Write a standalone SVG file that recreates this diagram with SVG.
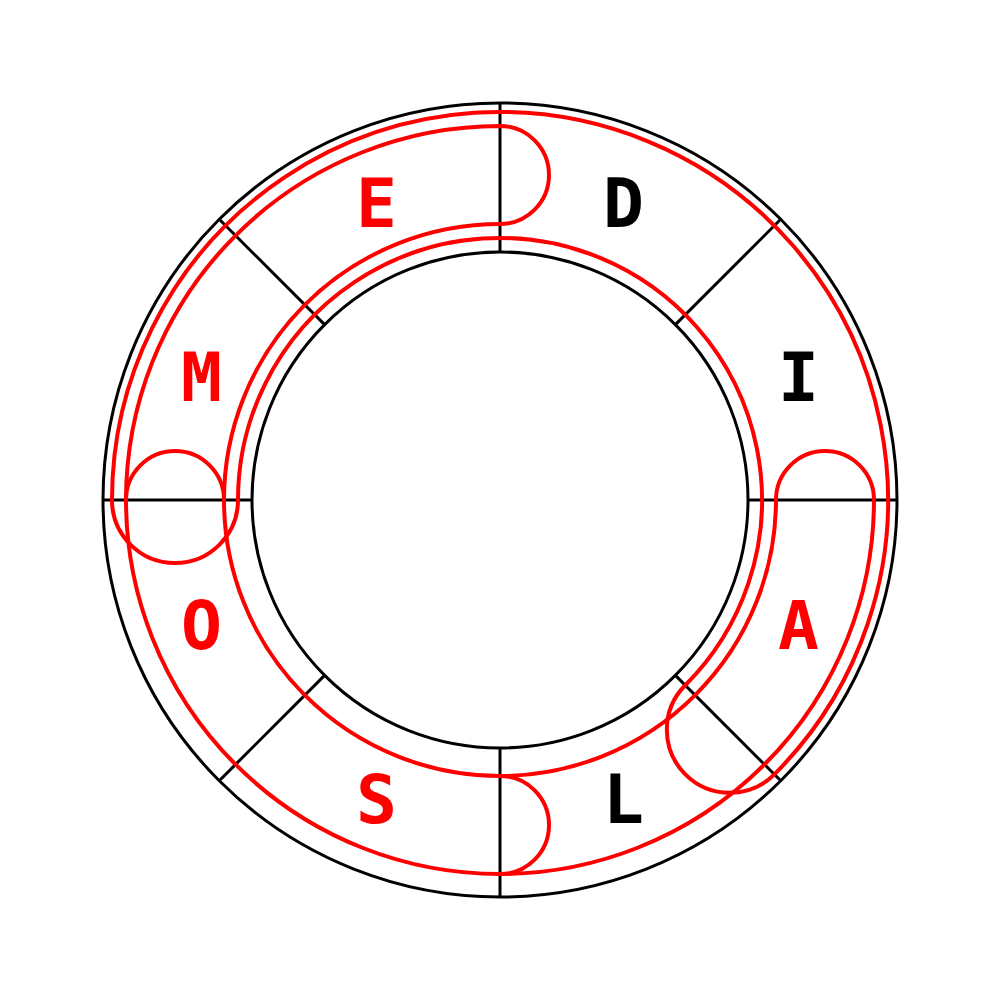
<svg xmlns="http://www.w3.org/2000/svg" width="1000" height="1000" viewBox="0 0 1000 1000">
<style>
.ring{fill:none;stroke:#000;stroke-width:3}
.div{stroke:#000;stroke-width:3}
.red{fill:none;stroke:#ff0000;stroke-width:4}
.lbl{font-family:"DejaVu Sans Mono","Liberation Mono",monospace;font-weight:bold;font-size:68px;text-anchor:middle}
.on{fill:#ff0000}
.off{fill:#000}
</style>
<rect width="1000" height="1000" fill="#fff"/>
<g id="ring">
<circle class="ring" cx="500" cy="500" r="397"/>
<circle class="ring" cx="500" cy="500" r="248"/>
<line class="div" x1="748" y1="500" x2="897" y2="500"/>
<line class="div" x1="675.36" y1="675.36" x2="780.72" y2="780.72"/>
<line class="div" x1="500" y1="748" x2="500" y2="897"/>
<line class="div" x1="324.64" y1="675.36" x2="219.28" y2="780.72"/>
<line class="div" x1="252" y1="500" x2="103" y2="500"/>
<line class="div" x1="324.64" y1="324.64" x2="219.28" y2="219.28"/>
<line class="div" x1="500" y1="252" x2="500" y2="103"/>
<line class="div" x1="675.36" y1="324.64" x2="780.72" y2="219.28"/>
</g>
<g id="connectors">
<path class="red" d="M112 500 A388 388 0 1 1 774.36 774.36 A63 63 0 0 1 685.26 685.26 A262 262 0 1 0 238 500 A63 63 0 0 1 112 500 Z"/>
<path class="red" d="M500 126 A49 49 0 0 1 500 224 A276 276 0 1 0 776 500 A49 49 0 0 1 874 500 A374 374 0 1 1 500 126 Z"/>
<path class="red" d="M500 776 A49 49 0 0 1 500 874"/>
<path class="red" d="M126 500 A49 49 0 0 1 224 500"/>
</g>
<g id="node-E"><text class="lbl on" x="376.4" y="226.6">E</text></g>
<g id="node-D"><text class="lbl off" x="623.6" y="226.6">D</text></g>
<g id="node-I"><text class="lbl off" x="798.4" y="401.4">I</text></g>
<g id="node-A"><text class="lbl on" x="798.4" y="648.6">A</text></g>
<g id="node-L"><text class="lbl off" x="623.6" y="823.4">L</text></g>
<g id="node-S"><text class="lbl on" x="376.4" y="823.4">S</text></g>
<g id="node-O"><text class="lbl on" x="201.6" y="648.6">O</text></g>
<g id="node-M"><text class="lbl on" x="201.6" y="401.4">M</text></g>
</svg>
